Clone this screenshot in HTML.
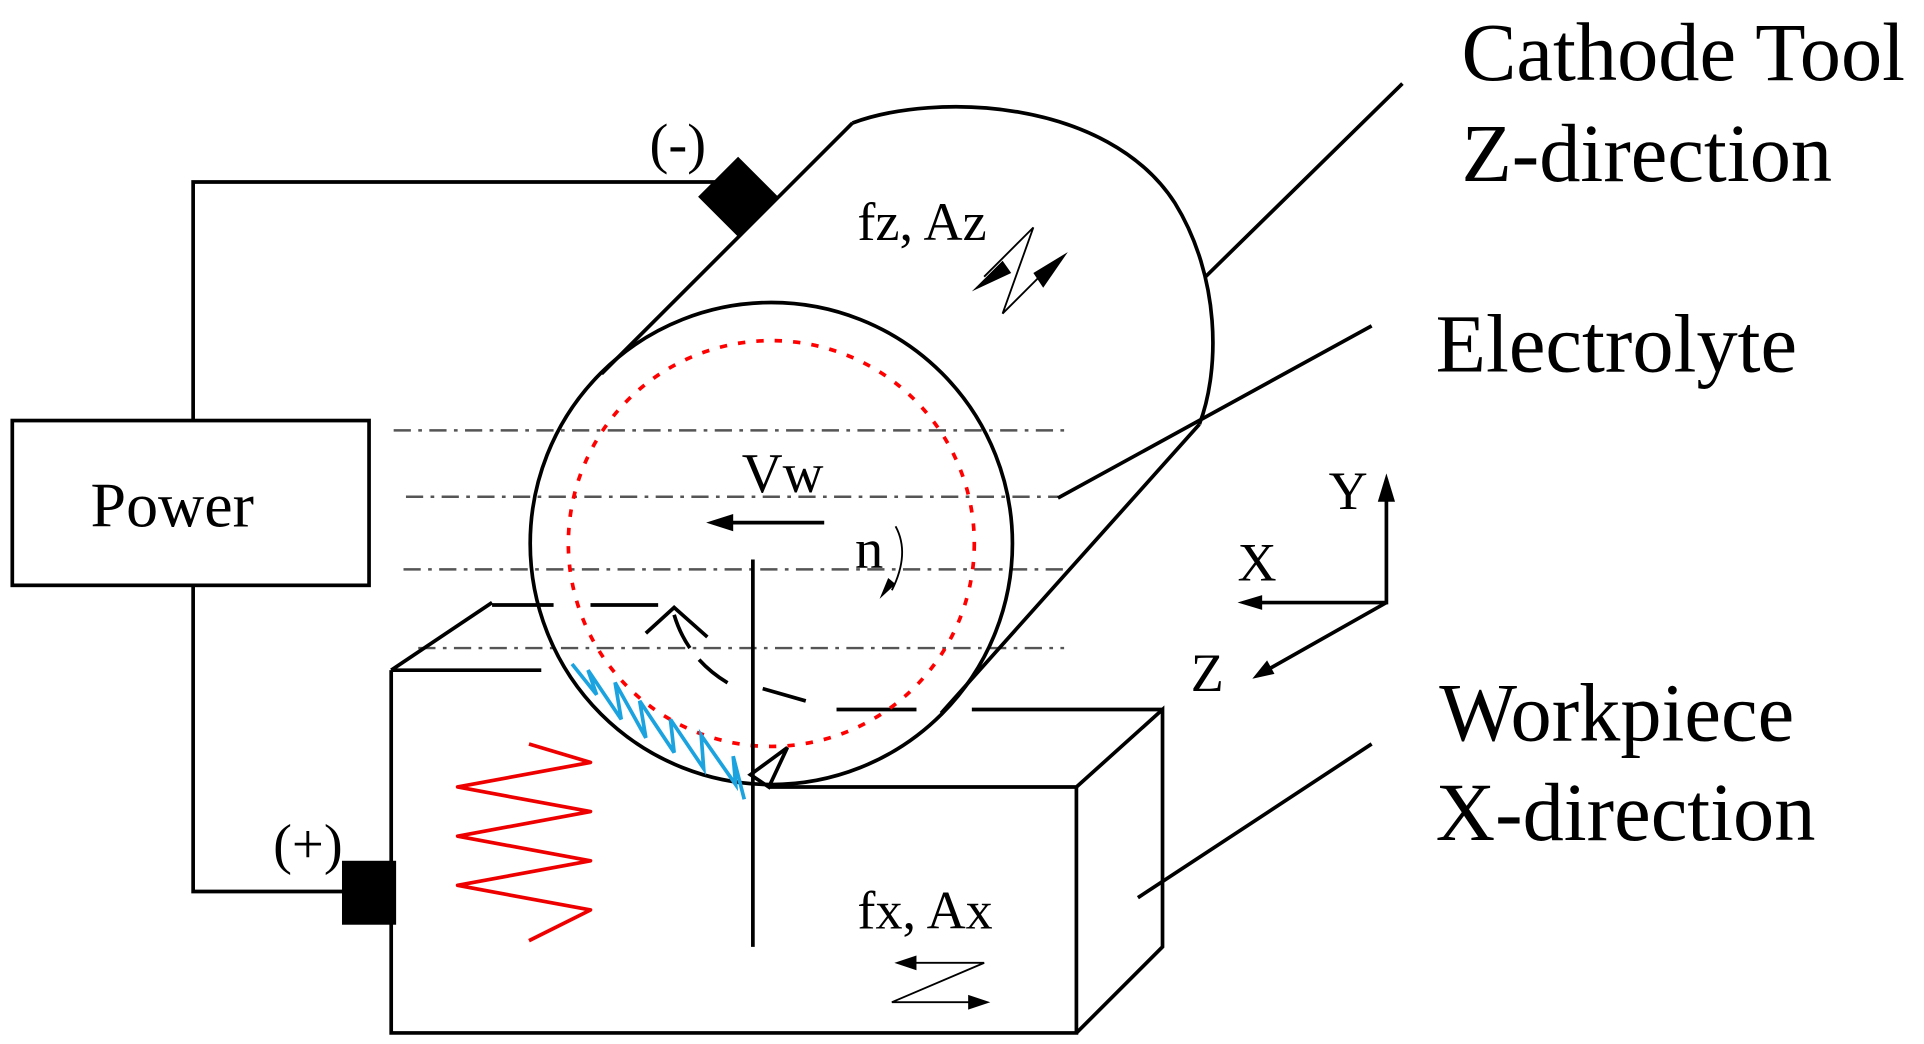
<!DOCTYPE html>
<html><head><meta charset="utf-8"><style>html,body{margin:0;padding:0;background:#fff}svg{display:block}</style></head><body>
<svg width="1924" height="1044" viewBox="0 0 1564 849" preserveAspectRatio="none" xmlns="http://www.w3.org/2000/svg" font-family="Liberation Serif, serif">
<rect width="1564" height="849" fill="#fff"/>
<g stroke="#555" stroke-width="2" stroke-dasharray="14,6,3,6" fill="none">
<line x1="320" y1="350" x2="870" y2="350"/>
<line x1="330" y1="404" x2="860" y2="404"/>
<line x1="328" y1="463" x2="870" y2="463"/>
<line x1="340" y1="527" x2="865" y2="527"/>
</g>
<g stroke="#000" stroke-width="3" fill="none">
<polyline points="157,342 157,148 590,148"/>
<polyline points="157,476 157,725 280,725"/>
</g>
<rect x="10" y="342" width="290" height="134" fill="#fff" stroke="#000" stroke-width="3"/>
<text x="140" y="428" font-size="52" text-anchor="middle">Power</text>
<rect x="278" y="700" width="44" height="52" fill="#000"/>
<rect x="577" y="137" width="46" height="46" fill="#000" transform="rotate(-45 600 160)"/>
<text x="528" y="132" font-size="46">(-)</text>
<text x="222" y="702" font-size="46">(+)</text>
<g stroke="#000" stroke-width="3" fill="none">
<line x1="489" y1="304" x2="693" y2="100"/>
<path d="M693,100 C760,75 900,80 955,165 C992,225 992,300 975,345"/>
<line x1="975" y1="345" x2="765" y2="580"/>
</g>
<g stroke="#000" stroke-width="3" fill="none">
<polyline points="318,545 318,840 875,840 875,640"/>
<polyline points="875,840 945,770 945,577 875,640 625,640"/>
<line x1="790" y1="577" x2="945" y2="577"/>
<line x1="318" y1="545" x2="400" y2="490"/>
<line x1="400" y1="492" x2="450" y2="492"/>
<line x1="318" y1="545" x2="440" y2="545"/>
<line x1="480" y1="492" x2="535" y2="492"/>
<polyline points="525,515 548,494 575,518"/>
<path d="M548,500 Q560,540 600,560" stroke-dasharray="30,12"/>
<line x1="620" y1="560" x2="655" y2="570"/>
<line x1="680" y1="577" x2="745" y2="577"/>
<polygon points="610,630 640,608 625,640"/>
</g>
<circle cx="627" cy="442" r="196" fill="none" stroke="#000" stroke-width="3"/>
<circle cx="627" cy="442" r="165" fill="none" stroke="#f00" stroke-width="3" stroke-dasharray="6,9"/>
<polyline points="465,540 485,565 478,545 505,585 500,555 525,600 520,570 548,612 545,585 572,625 570,598 598,638 596,615 605,650" fill="none" stroke="#1ba3e0" stroke-width="3"/>
<polyline points="430,605 480,620 372,640 480,660 372,680 480,700 372,720 480,740 430,765" fill="none" stroke="#e00" stroke-width="3" stroke-linejoin="round"/>
<line x1="612" y1="455" x2="612" y2="770" stroke="#000" stroke-width="3"/>
<line x1="670" y1="425" x2="590" y2="425" stroke="#000" stroke-width="3"/>
<polygon points="574,425 596,418 596,432" fill="#000"/>
<text x="603" y="400" font-size="46">Vw</text>
<text x="695" y="462" font-size="46">n</text>
<path d="M728,428 Q740,450 725,480" fill="none" stroke="#000" stroke-width="1.5"/>
<polygon points="715,487 728,475 722,470" fill="#000"/>
<text x="697" y="195" font-size="44">fz, Az</text>
<polyline points="800,225 840,185 815,255 855,215" fill="none" stroke="#000" stroke-width="1.5"/>
<polygon points="790,237 815,212 822,222" fill="#000"/>
<polygon points="868,205 840,222 848,234" fill="#000"/>
<text x="697" y="755" font-size="44">fx, Ax</text>
<polyline points="740,783 800,783 725,815 800,815" fill="none" stroke="#000" stroke-width="1.5"/>
<polygon points="727,783 745,777 745,789" fill="#000"/>
<polygon points="805,815 787,809 787,821" fill="#000"/>
<g stroke="#000" stroke-width="3" fill="none">
<polyline points="1127,390 1127,490 1015,490"/>
<line x1="1127" y1="490" x2="1028" y2="546"/>
</g>
<polygon points="1127,385 1120,408 1134,408" fill="#000"/>
<polygon points="1006,490 1026,484 1026,496" fill="#000"/>
<polygon points="1018,552 1030,537 1036,548" fill="#000"/>
<text x="1080" y="414" font-size="44">Y</text>
<text x="1006" y="472" font-size="44">X</text>
<text x="968" y="562" font-size="44">Z</text>
<g stroke="#000" stroke-width="3">
<line x1="980" y1="225" x2="1140" y2="68"/>
<line x1="860" y1="405" x2="1115" y2="265"/>
<line x1="925" y1="730" x2="1115" y2="605"/>
</g>
<g font-size="67">
<text x="1188" y="65">Cathode Tool</text>
<text x="1188" y="147">Z-direction</text>
<text x="1167" y="302">Electrolyte</text>
<text x="1170" y="602">Workpiece</text>
<text x="1167" y="683">X-direction</text>
</g>
</svg>
</body></html>
